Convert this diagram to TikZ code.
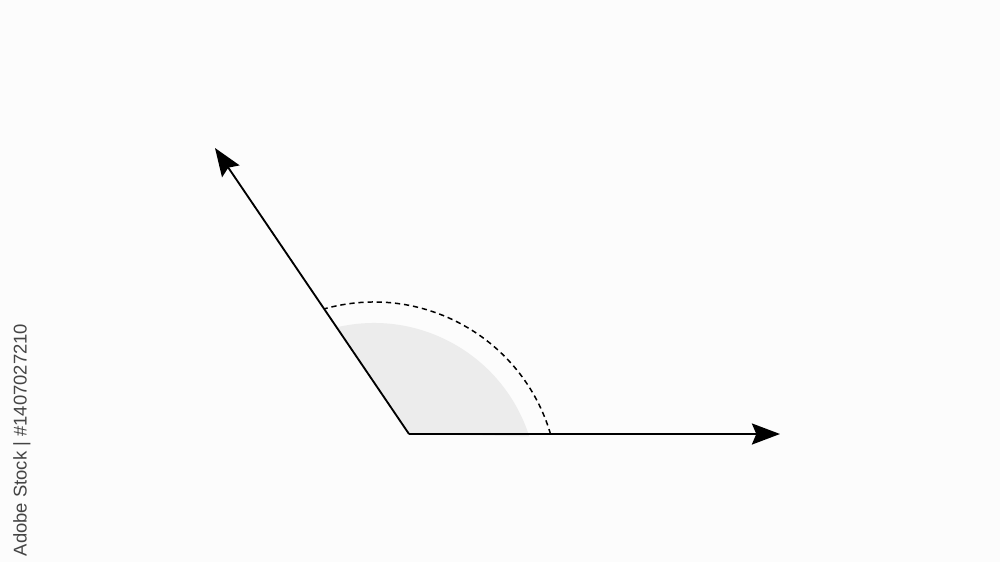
\documentclass[tikz,border=0pt]{standalone}
\usepackage{fontspec}
\setsansfont{Liberation Sans}
\usetikzlibrary{arrows.meta}

\definecolor{bgpaper}{RGB}{252,252,252}
\definecolor{sectorgray}{RGB}{236,236,236}
\definecolor{stampgray}{RGB}{68,68,68}

\begin{document}
\begin{tikzpicture}[x=0.02cm, y=0.02cm,
    ray/.style={draw=black, line width=1.05pt, -{Stealth[length=16pt, width=12pt, inset=2.5pt]}},
    guide/.style={draw=black, line width=0.85pt, dash pattern=on 3pt off 2.2pt},
    sector/.style={fill=sectorgray}]
                \fill[bgpaper] (0,0) rectangle (1000,562);
                \useasboundingbox (0,0) rectangle (1000,562);

                \coordinate (O) at (409,128);
                \coordinate (A) at (780,128);
                \coordinate (B) at (215,414);
                \coordinate (C) at (374,76);

                % shaded angle
                \fill[sector] (O) -- ([shift={(17.7:163)}]C) arc[start angle=17.7, end angle=103.1, radius=163] -- cycle;
                \draw[guide] ([shift={(16.4:184)}]C) arc[start angle=16.4, end angle=105.6, radius=184];

                \draw[ray] (O) -- (A);
                \draw[ray] (O) -- (B);

                \node[rotate=90, text=stampgray, font=\sffamily\fontsize{10.5}{12}\selectfont] (stamp) at (22,122) {Adobe Stock | \#1407027210};
            \end{tikzpicture}
\end{document}
